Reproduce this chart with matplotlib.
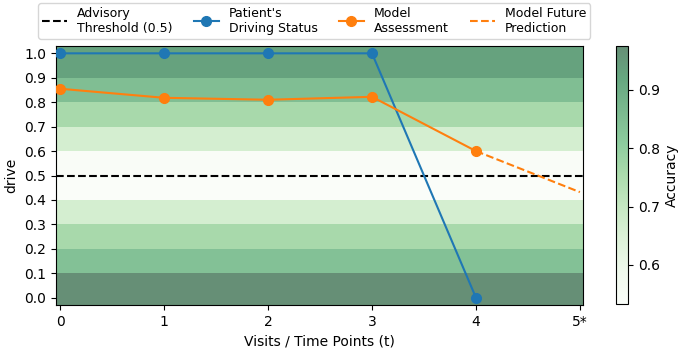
import numpy as np
import matplotlib
matplotlib.use("Agg")
import matplotlib.pyplot as plt
from matplotlib.colors import Normalize

# Data
time_points = [0, 1, 2, 3, 4]
tick_labels = ["0", "1", "2", "3", "4", "5*"]
driving_status = [1.0, 1.0, 1.0, 1.0, 0.0]
model_assessment = [0.855, 0.818, 0.81, 0.822, 0.60]
future_t = [4, 5]
future_pred = [0.60, 0.432]
band_edges = [0.0, 0.1, 0.2, 0.3, 0.4, 0.5, 0.6, 0.7, 0.8, 0.9, 1.0]
band_accuracy = [0.975, 0.84, 0.76, 0.665, 0.533, 0.54, 0.665, 0.76, 0.85, 0.93]
threshold = 0.5

fig = plt.figure(figsize=(6.85, 3.51), dpi=100)
ax = fig.add_axes([56/685, 1 - 305/351, (583-56)/685, (305-46)/351])
cax = fig.add_axes([616/685, 1 - 304/351, 12/685, (304-46)/351])

xlim = (-0.04, 5.03)
ylim = (-0.03, 1.03)
edges = np.array(band_edges, dtype=float)
edges[0] = ylim[0] - 0.05
edges[-1] = ylim[1] + 0.05
acc = np.array(band_accuracy).reshape(-1, 1)
norm = Normalize(vmin=min(band_accuracy), vmax=max(band_accuracy))
mesh = ax.pcolormesh([xlim[0] - 0.1, xlim[1] + 0.1], edges, acc, cmap="Greens",
                     norm=norm, alpha=0.6, shading="flat", zorder=0)

ax.axhline(threshold, color="black", linestyle="--", lw=1.5,
           label="Advisory\nThreshold (0.5)", zorder=2)
ax.plot(time_points, driving_status, "-o", color="#1f77b4", lw=1.5, ms=7,
        label="Patient's\nDriving Status", zorder=3)
ax.plot(time_points, model_assessment, "-o", color="#ff7f0e", lw=1.5, ms=7,
        label="Model\nAssessment", zorder=3)
ax.plot(future_t, future_pred, "--", color="#ff7f0e", lw=1.5,
        label="Model Future\nPrediction", zorder=3)

ax.set_xlim(*xlim)
ax.set_ylim(*ylim)
ax.set_xticks(range(len(tick_labels)))
ax.set_xticklabels(tick_labels)
ax.set_yticks(np.arange(0, 1.01, 0.1))
ax.set_yticklabels([f"{v:.1f}" for v in np.arange(0, 1.01, 0.1)])
ax.set_xlabel("Visits / Time Points (t)")
ax.set_ylabel("drive")

cb = fig.colorbar(mesh, cax=cax)
cb.set_label("Accuracy")
cb.set_ticks([0.6, 0.7, 0.8, 0.9])

ax.legend(loc="lower center", bbox_to_anchor=(0.49, 1.0), ncol=4,
          fontsize=9, frameon=True, borderaxespad=0.6, borderpad=0.3,
          columnspacing=1.7, handlelength=2.0)

fig.savefig("out.png", dpi=100)
